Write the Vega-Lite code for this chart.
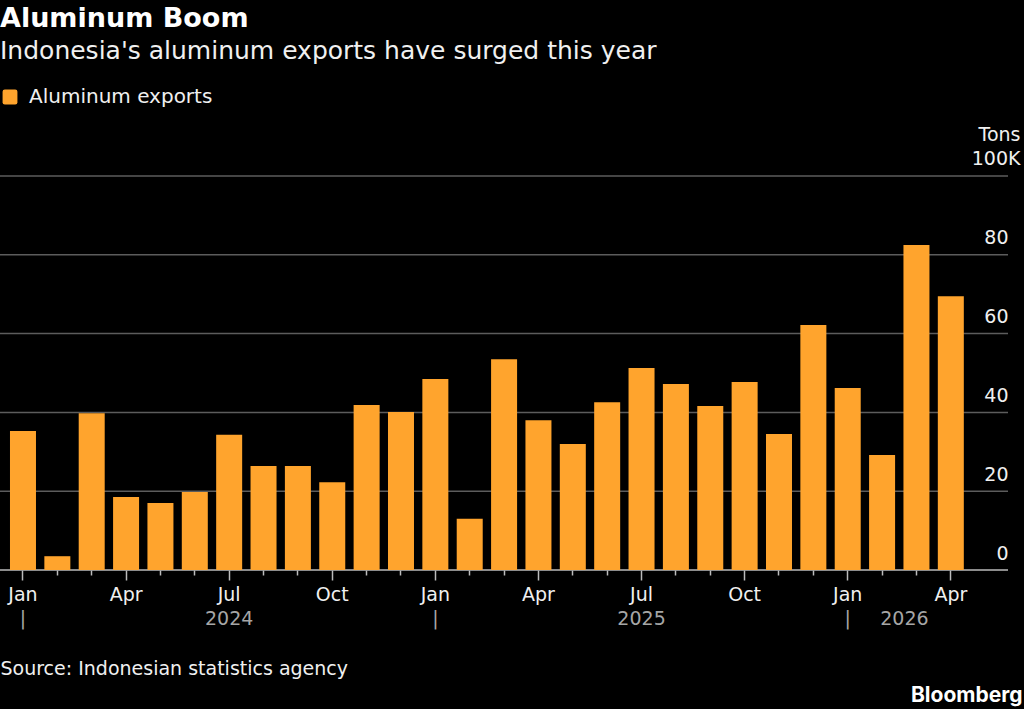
{
  "$schema": "https://vega.github.io/schema/vega-lite/v6.json",
  "width": 1008,
  "height": 394,
  "autosize": "none",
  "padding": {"left": 0, "top": 176, "right": 16, "bottom": 139},
  "background": "#000000",
  "title": {
    "text": "Aluminum Boom",
    "subtitle": "Indonesia's aluminum exports have surged this year",
    "anchor": "start",
    "frame": "group",
    "offset": 22,
    "font": "DejaVu Sans",
    "fontSize": 27,
    "fontWeight": "bold",
    "color": "#ffffff",
    "subtitleFont": "DejaVu Sans",
    "subtitleFontSize": 25,
    "subtitleColor": "#f0f0f0",
    "subtitlePadding": 6
  },
  "datasets": {
    "exports": [
      {"month": "2024-01", "tons": 35.3},
      {"month": "2024-02", "tons": 3.5},
      {"month": "2024-03", "tons": 39.8},
      {"month": "2024-04", "tons": 18.5},
      {"month": "2024-05", "tons": 17},
      {"month": "2024-06", "tons": 19.8},
      {"month": "2024-07", "tons": 34.3},
      {"month": "2024-08", "tons": 26.4},
      {"month": "2024-09", "tons": 26.4},
      {"month": "2024-10", "tons": 22.3},
      {"month": "2024-11", "tons": 41.9},
      {"month": "2024-12", "tons": 40.1},
      {"month": "2025-01", "tons": 48.5},
      {"month": "2025-02", "tons": 13},
      {"month": "2025-03", "tons": 53.5},
      {"month": "2025-04", "tons": 38},
      {"month": "2025-05", "tons": 32},
      {"month": "2025-06", "tons": 42.6},
      {"month": "2025-07", "tons": 51.3},
      {"month": "2025-08", "tons": 47.2},
      {"month": "2025-09", "tons": 41.6},
      {"month": "2025-10", "tons": 47.7},
      {"month": "2025-11", "tons": 34.5},
      {"month": "2025-12", "tons": 62.2},
      {"month": "2026-01", "tons": 46.2},
      {"month": "2026-02", "tons": 29.2},
      {"month": "2026-03", "tons": 82.5},
      {"month": "2026-04", "tons": 69.5}
    ],
    "gridlines": [
      {"tons": 0},
      {"tons": 20},
      {"tons": 40},
      {"tons": 60},
      {"tons": 80},
      {"tons": 100}
    ]
  },
  "layer": [
    {
      "data": {"name": "gridlines"},
      "mark": {"type": "rule", "strokeWidth": 1.5},
      "encoding": {
        "y": {
          "field": "tons",
          "type": "quantitative",
          "scale": {"domain": [0, 100]},
          "axis": {
            "orient": "right",
            "values": [0, 20, 40, 60, 80, 100],
            "domain": false,
            "ticks": false,
            "grid": false,
            "labelAlign": "right",
            "labelBaseline": "bottom",
            "labelPadding": 0,
            "labelOffset": -7,
            "labelFont": "DejaVu Sans",
            "labelFontSize": 19,
            "labelColor": "#f0f0f0",
            "labelExpr": "datum.value === 100 ? '' : datum.label",
            "title": ["Tons", "100K"],
            "titleAngle": 0,
            "titleAlign": "right",
            "titleBaseline": "alphabetic",
            "titleX": 12,
            "titleY": -36,
            "titleLineHeight": 24,
            "titleFont": "DejaVu Sans",
            "titleFontSize": 19,
            "titleFontWeight": "normal",
            "titleColor": "#f0f0f0"
          }
        },
        "color": {"condition": {"test": "datum.tons === 0", "value": "#bbbbbb"}, "value": "#5c5c5c"}
      }
    },
    {
      "data": {"name": "exports"},
      "mark": {"type": "bar", "width": 26},
      "encoding": {
        "x": {
          "field": "month",
          "type": "ordinal",
          "scale": {"range": [5.8, 968]},
          "axis": {
            "orient": "bottom",
            "title": "Source: Indonesian statistics agency",
            "titleX": 0,
            "titleY": 89,
            "titleAlign": "left",
            "titleFont": "DejaVu Sans",
            "titleFontSize": 19,
            "titleFontWeight": "normal",
            "titleColor": "#f0f0f0",
            "domain": false,
            "labelAngle": 0,
            "labelAlign": "center",
            "labelFont": "DejaVu Sans",
            "labelFontSize": 19,
            "labelColor": "#f0f0f0",
            "labelPadding": 5,
            "labelOverlap": false,
            "labelExpr": "indexof(['01','04','07','10'], slice(datum.value, 5)) < 0 ? '' : {'01':'Jan','04':'Apr','07':'Jul','10':'Oct'}[slice(datum.value, 5)]",
            "tickColor": "#bbbbbb",
            "tickWidth": 1.5,
            "tickSize": {"condition": {"test": "indexof(['01','04','07','10'], slice(datum.value, 5)) >= 0", "value": 10}, "value": 5}
          }
        },
        "y": {"field": "tons", "type": "quantitative"},
        "color": {
          "datum": "Aluminum exports",
          "type": "nominal",
          "scale": {"range": ["#ffa42d"]},
          "legend": {
            "title": null,
            "orient": "none",
            "legendX": 0,
            "legendY": -89,
            "symbolType": "M -0.7 -1 H 0.7 Q 1 -1 1 -0.7 V 0.7 Q 1 1 0.7 1 H -0.7 Q -1 1 -1 0.7 V -0.7 Q -1 -1 -0.7 -1 Z",
            "symbolSize": 220,
            "symbolStrokeWidth": 0,
            "symbolOpacity": 1,
            "labelFont": "DejaVu Sans",
            "labelFontSize": 20,
            "labelColor": "#f0f0f0",
            "labelOffset": 9,
            "labelLimit": 400
          }
        }
      }
    },
    {
      "data": {"name": "exports"},
      "mark": {"type": "bar", "width": 26, "opacity": 0},
      "encoding": {
        "x": {
          "field": "month",
          "type": "ordinal",
          "scale": {"range": [5.8, 968]},
          "axis": {
            "orient": "bottom",
            "title": "Bloomberg",
            "titleX": 1022,
            "titleY": 114,
            "titleAlign": "right",
            "titleFont": "Inter",
            "titleFontSize": 21,
            "titleFontWeight": "bold",
            "titleColor": "#ffffff",
            "domain": false,
            "ticks": false,
            "labelAngle": 0,
            "labelFont": "DejaVu Sans",
            "labelFontSize": 19,
            "labelColor": "#a6a6a6",
            "labelPadding": 39,
            "labelOverlap": false,
            "labelOffset": {"condition": {"test": "datum.value === '2026-03'", "value": -12}, "value": 0},
            "labelExpr": "{'2024-01':'|','2025-01':'|','2026-01':'|','2024-07':'2024','2025-07':'2025','2026-03':'2026'}[datum.value] || ''"
          }
        }
      }
    }
  ],
  "resolve": {"axis": {"x": "independent"}},
  "config": {"view": {"stroke": null}}
}
